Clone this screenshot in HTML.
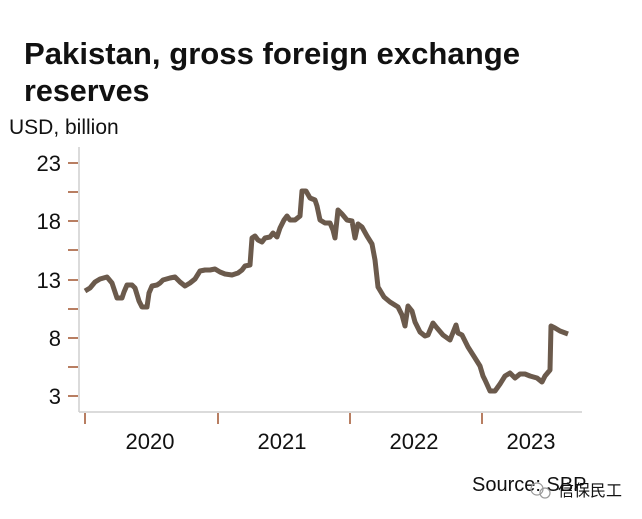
<!DOCTYPE html>
<html><head><meta charset="utf-8"><style>
body{margin:0;background:#fff;width:642px;height:519px;overflow:hidden}
svg{display:block}
text{font-family:"Liberation Sans",Arial,sans-serif;fill:#111}
</style></head><body>
<svg width="642" height="519" viewBox="0 0 642 519">
<text x="24" y="64" font-size="30.5" font-weight="bold" textLength="496" lengthAdjust="spacingAndGlyphs">Pakistan, gross foreign exchange</text>
<text x="24" y="101" font-size="30.5" font-weight="bold">reserves</text>
<text x="9" y="134" font-size="21">USD, billion</text>
<g stroke="#a0522d" stroke-width="1.5">
<line x1="68" y1="163" x2="78" y2="163"/><line x1="68" y1="192" x2="78" y2="192"/>
<line x1="68" y1="221" x2="78" y2="221"/><line x1="68" y1="250" x2="78" y2="250"/>
<line x1="68" y1="280" x2="78" y2="280"/><line x1="68" y1="309" x2="78" y2="309"/>
<line x1="68" y1="338" x2="78" y2="338"/><line x1="68" y1="367" x2="78" y2="367"/>
<line x1="68" y1="396" x2="78" y2="396"/>
<line x1="85" y1="413" x2="85" y2="424"/><line x1="218" y1="413" x2="218" y2="424"/>
<line x1="350" y1="413" x2="350" y2="424"/><line x1="482" y1="413" x2="482" y2="424"/>
</g>
<g stroke="#cfcfcf" stroke-width="1.5"><line x1="79" y1="147" x2="79" y2="412"/><line x1="79" y1="412" x2="582" y2="412"/></g>
<g font-size="22" text-anchor="end">
<text x="61" y="171">23</text><text x="61" y="229">18</text><text x="61" y="288">13</text><text x="61" y="346">8</text><text x="61" y="404">3</text>
</g>
<g font-size="22" text-anchor="middle">
<text x="150" y="449">2020</text><text x="282" y="449">2021</text><text x="414" y="449">2022</text><text x="531" y="449">2023</text>
</g>
<polyline fill="none" stroke="#6b5a4c" stroke-width="5" stroke-linejoin="round" points="85,291 90,288 95,282 100,279 107,277 112,283 117,298 122,298 124,292 127,285 132,285 135,288 139,301 142,307 147,307 149,293 152,286 157,285 160,283 163,280 170,278 175,277 180,282 185,286 190,283 195,279 200,271 205,270 210,270 215,269 220,272 225,274 232,275 238,273 242,270 245,266 250,265 252,238 255,236 258,240 262,242 265,238 270,237 273,233 277,237 280,228 284,220 287,216 290,220 295,220 300,216 302,191 306,191 310,198 315,200 317,206 320,220 325,223 330,223 333,230 335,238 338,210 342,214 347,220 352,221 355,238 358,224 362,227 367,236 372,244 375,260 378,287 384,297 390,302 398,307 402,315 405,326 408,306 412,311 415,322 420,332 425,336 428,335 433,323 437,328 443,335 450,340 456,325 458,333 462,335 468,347 475,358 480,366 483,376 485,380 490,391 495,391 500,384 505,376 510,373 515,378 520,374 525,374 530,376 537,378 542,382 545,376 550,370 551,326 555,328 560,331 568,334"/>
<text x="472" y="491" font-size="20">Source: SBP</text>
<circle cx="537" cy="489" r="6" fill="none" stroke="#999" stroke-width="1.2"/>
<circle cx="545" cy="493" r="5" fill="none" stroke="#999" stroke-width="1.2"/>
<text x="558" y="496" font-size="16" font-family="'Noto Sans CJK SC',sans-serif" fill="#444">信保民工</text>
</svg>
</body></html>
